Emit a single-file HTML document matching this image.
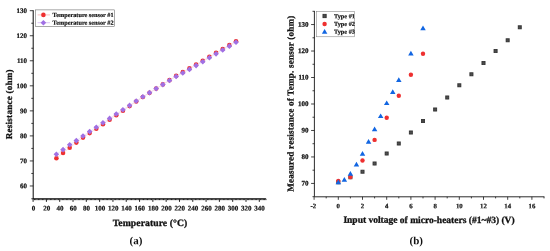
<!DOCTYPE html>
<html lang="en"><head><meta charset="utf-8"><title>Figure</title>
<style>
html,body{margin:0;padding:0;background:#fff;}
body{width:550px;height:251px;overflow:hidden;}
svg{display:block;}
text{font-family:"Liberation Serif", "DejaVu Serif", serif;fill:#111;text-rendering:geometricPrecision;}
.b{font-weight:bold;}
.tk{font-size:7px;font-weight:bold;stroke:#111;stroke-width:0.2px;}
.tkx{font-size:6.8px;font-weight:bold;stroke:#111;stroke-width:0.2px;}
.axb{font-size:9.5px;font-weight:bold;stroke:#111;stroke-width:0.3px;}
.tkb{font-size:7px;font-weight:bold;stroke:#111;stroke-width:0.25px;}
.ax{font-size:9.7px;font-weight:bold;stroke:#111;stroke-width:0.2px;}
.axa{font-size:9.7px;font-weight:bold;stroke:#111;stroke-width:0.3px;letter-spacing:0.06px;}
.axv{font-size:9px;font-weight:bold;stroke:#111;stroke-width:0.3px;letter-spacing:0.27px;}
.axw{font-size:9px;font-weight:bold;stroke:#111;stroke-width:0.3px;letter-spacing:0.25px;}
.lg{font-size:6.25px;font-weight:bold;stroke:#111;stroke-width:0.18px;}
.cap{font-size:11px;font-weight:bold;}
</style></head><body>
<svg width="550" height="251" viewBox="0 0 550 251">
<rect width="550" height="251" fill="#fff"/>
<g id="chart-a">
<path d="M33.2 10.2 V198.75 H265.95" fill="none" stroke="#141414" stroke-width="1.05"/>
<path d="M33.1 198.75v3.1M34.43 198.75v1.4M35.76 198.75v1.4M37.09 198.75v1.4M38.42 198.75v1.4M39.75 198.75v1.4M41.08 198.75v1.4M42.41 198.75v1.4M43.74 198.75v1.4M45.08 198.75v1.4M46.41 198.75v3.1M47.74 198.75v1.4M49.07 198.75v1.4M50.4 198.75v1.4M51.73 198.75v1.4M53.06 198.75v1.4M54.39 198.75v1.4M55.72 198.75v1.4M57.05 198.75v1.4M58.38 198.75v1.4M59.71 198.75v3.1M61.04 198.75v1.4M62.37 198.75v1.4M63.7 198.75v1.4M65.03 198.75v1.4M66.37 198.75v1.4M67.7 198.75v1.4M69.03 198.75v1.4M70.36 198.75v1.4M71.69 198.75v1.4M73.02 198.75v3.1M74.35 198.75v1.4M75.68 198.75v1.4M77.01 198.75v1.4M78.34 198.75v1.4M79.67 198.75v1.4M81 198.75v1.4M82.33 198.75v1.4M83.66 198.75v1.4M84.99 198.75v1.4M86.32 198.75v3.1M87.65 198.75v1.4M88.99 198.75v1.4M90.32 198.75v1.4M91.65 198.75v1.4M92.98 198.75v1.4M94.31 198.75v1.4M95.64 198.75v1.4M96.97 198.75v1.4M98.3 198.75v1.4M99.63 198.75v3.1M100.96 198.75v1.4M102.29 198.75v1.4M103.62 198.75v1.4M104.95 198.75v1.4M106.28 198.75v1.4M107.61 198.75v1.4M108.94 198.75v1.4M110.27 198.75v1.4M111.61 198.75v1.4M112.94 198.75v3.1M114.27 198.75v1.4M115.6 198.75v1.4M116.93 198.75v1.4M118.26 198.75v1.4M119.59 198.75v1.4M120.92 198.75v1.4M122.25 198.75v1.4M123.58 198.75v1.4M124.91 198.75v1.4M126.24 198.75v3.1M127.57 198.75v1.4M128.9 198.75v1.4M130.23 198.75v1.4M131.56 198.75v1.4M132.9 198.75v1.4M134.23 198.75v1.4M135.56 198.75v1.4M136.89 198.75v1.4M138.22 198.75v1.4M139.55 198.75v3.1M140.88 198.75v1.4M142.21 198.75v1.4M143.54 198.75v1.4M144.87 198.75v1.4M146.2 198.75v1.4M147.53 198.75v1.4M148.86 198.75v1.4M150.19 198.75v1.4M151.52 198.75v1.4M152.85 198.75v3.1M154.18 198.75v1.4M155.52 198.75v1.4M156.85 198.75v1.4M158.18 198.75v1.4M159.51 198.75v1.4M160.84 198.75v1.4M162.17 198.75v1.4M163.5 198.75v1.4M164.83 198.75v1.4M166.16 198.75v3.1M167.49 198.75v1.4M168.82 198.75v1.4M170.15 198.75v1.4M171.48 198.75v1.4M172.81 198.75v1.4M174.14 198.75v1.4M175.47 198.75v1.4M176.8 198.75v1.4M178.14 198.75v1.4M179.47 198.75v3.1M180.8 198.75v1.4M182.13 198.75v1.4M183.46 198.75v1.4M184.79 198.75v1.4M186.12 198.75v1.4M187.45 198.75v1.4M188.78 198.75v1.4M190.11 198.75v1.4M191.44 198.75v1.4M192.77 198.75v3.1M194.1 198.75v1.4M195.43 198.75v1.4M196.76 198.75v1.4M198.09 198.75v1.4M199.42 198.75v1.4M200.76 198.75v1.4M202.09 198.75v1.4M203.42 198.75v1.4M204.75 198.75v1.4M206.08 198.75v3.1M207.41 198.75v1.4M208.74 198.75v1.4M210.07 198.75v1.4M211.4 198.75v1.4M212.73 198.75v1.4M214.06 198.75v1.4M215.39 198.75v1.4M216.72 198.75v1.4M218.05 198.75v1.4M219.38 198.75v3.1M220.71 198.75v1.4M222.05 198.75v1.4M223.38 198.75v1.4M224.71 198.75v1.4M226.04 198.75v1.4M227.37 198.75v1.4M228.7 198.75v1.4M230.03 198.75v1.4M231.36 198.75v1.4M232.69 198.75v3.1M234.02 198.75v1.4M235.35 198.75v1.4M236.68 198.75v1.4M238.01 198.75v1.4M239.34 198.75v1.4M240.67 198.75v1.4M242 198.75v1.4M243.33 198.75v1.4M244.67 198.75v1.4M246 198.75v3.1M247.33 198.75v1.4M248.66 198.75v1.4M249.99 198.75v1.4M251.32 198.75v1.4M252.65 198.75v1.4M253.98 198.75v1.4M255.31 198.75v1.4M256.64 198.75v1.4M257.97 198.75v1.4M259.3 198.75v3.1M260.63 198.75v1.4M261.96 198.75v1.4M263.29 198.75v1.4M264.62 198.75v1.4M265.95 198.75v1.4" stroke="#141414" stroke-width="0.95" fill="none"/>
<path d="M33.2 198.75h-1.9M33.2 185.98h-3.4M33.2 173.46h-1.9M33.2 160.94h-3.4M33.2 148.42h-1.9M33.2 135.9h-3.4M33.2 123.38h-1.9M33.2 110.86h-3.4M33.2 98.34h-1.9M33.2 85.82h-3.4M33.2 73.3h-1.9M33.2 60.78h-3.4M33.2 48.26h-1.9M33.2 35.74h-3.4M33.2 23.22h-1.9M33.2 10.7h-3.4" stroke="#141414" stroke-width="0.8" fill="none"/>
<text class="tk" x="33.4" y="210.5" text-anchor="middle" transform="rotate(0.03 33.4 210.5)">0</text>
<text class="tk" x="46.71" y="210.5" text-anchor="middle" transform="rotate(0.03 46.71 210.5)">20</text>
<text class="tk" x="60.01" y="210.5" text-anchor="middle" transform="rotate(0.03 60.01 210.5)">40</text>
<text class="tk" x="73.32" y="210.5" text-anchor="middle" transform="rotate(0.03 73.32 210.5)">60</text>
<text class="tk" x="86.62" y="210.5" text-anchor="middle" transform="rotate(0.03 86.62 210.5)">80</text>
<text class="tk" x="99.93" y="210.5" text-anchor="middle" transform="rotate(0.03 99.93 210.5)">100</text>
<text class="tk" x="113.24" y="210.5" text-anchor="middle" transform="rotate(0.03 113.24 210.5)">120</text>
<text class="tk" x="126.54" y="210.5" text-anchor="middle" transform="rotate(0.03 126.54 210.5)">140</text>
<text class="tk" x="139.85" y="210.5" text-anchor="middle" transform="rotate(0.03 139.85 210.5)">160</text>
<text class="tk" x="153.15" y="210.5" text-anchor="middle" transform="rotate(0.03 153.15 210.5)">180</text>
<text class="tk" x="166.46" y="210.5" text-anchor="middle" transform="rotate(0.03 166.46 210.5)">200</text>
<text class="tk" x="179.77" y="210.5" text-anchor="middle" transform="rotate(0.03 179.77 210.5)">220</text>
<text class="tk" x="193.07" y="210.5" text-anchor="middle" transform="rotate(0.03 193.07 210.5)">240</text>
<text class="tk" x="206.38" y="210.5" text-anchor="middle" transform="rotate(0.03 206.38 210.5)">260</text>
<text class="tk" x="219.68" y="210.5" text-anchor="middle" transform="rotate(0.03 219.68 210.5)">280</text>
<text class="tk" x="232.99" y="210.5" text-anchor="middle" transform="rotate(0.03 232.99 210.5)">300</text>
<text class="tk" x="246.3" y="210.5" text-anchor="middle" transform="rotate(0.03 246.3 210.5)">320</text>
<text class="tk" x="259.6" y="210.5" text-anchor="middle" transform="rotate(0.03 259.6 210.5)">340</text>
<text class="tk" x="27" y="188.33" text-anchor="end" transform="rotate(0.03 27 188.33)">60</text>
<text class="tk" x="27" y="163.29" text-anchor="end" transform="rotate(0.03 27 163.29)">70</text>
<text class="tk" x="27" y="138.25" text-anchor="end" transform="rotate(0.03 27 138.25)">80</text>
<text class="tk" x="27" y="113.21" text-anchor="end" transform="rotate(0.03 27 113.21)">90</text>
<text class="tk" x="27" y="88.17" text-anchor="end" transform="rotate(0.03 27 88.17)">100</text>
<text class="tk" x="27" y="63.13" text-anchor="end" transform="rotate(0.03 27 63.13)">110</text>
<text class="tk" x="27" y="38.09" text-anchor="end" transform="rotate(0.03 27 38.09)">120</text>
<text class="tk" x="27" y="13.05" text-anchor="end" transform="rotate(0.03 27 13.05)">130</text>
<text class="axa" x="150" y="226" text-anchor="middle" transform="rotate(0.03 150 226)">Temperature (°C)</text>
<text class="axv" transform="translate(12.0 104.2) rotate(-89.97)" text-anchor="middle">Resistance (ohm)</text>
<polyline fill="none" stroke="#fdd4d4" stroke-width="0.7" points="56.39,158.2 63.04,152.95 69.69,147.8 76.34,142.6 83,137.6 89.65,133.12 96.3,128.64 102.96,124.16 109.61,119.68 116.26,115.26 122.92,110.69 129.57,106.11 136.22,101.54 142.87,97.03 149.53,92.83 156.18,88.62 162.83,84.38 169.49,80.14 176.14,75.9 182.79,72.15 189.45,68.4 196.1,64.6 202.75,60.8 209.4,56.7 216.06,52.85 222.71,49 229.36,45.15 236.02,41.3"/>
<g fill="#ee3030"><circle cx="56.39" cy="158.2" r="2.3"/><circle cx="63.04" cy="152.95" r="2.3"/><circle cx="69.69" cy="147.8" r="2.3"/><circle cx="76.34" cy="142.6" r="2.3"/><circle cx="83" cy="137.6" r="2.3"/><circle cx="89.65" cy="133.12" r="2.3"/><circle cx="96.3" cy="128.64" r="2.3"/><circle cx="102.96" cy="124.16" r="2.3"/><circle cx="109.61" cy="119.68" r="2.3"/><circle cx="116.26" cy="115.26" r="2.3"/><circle cx="122.92" cy="110.69" r="2.3"/><circle cx="129.57" cy="106.11" r="2.3"/><circle cx="136.22" cy="101.54" r="2.3"/><circle cx="142.87" cy="97.03" r="2.3"/><circle cx="149.53" cy="92.83" r="2.3"/><circle cx="156.18" cy="88.62" r="2.3"/><circle cx="162.83" cy="84.38" r="2.3"/><circle cx="169.49" cy="80.14" r="2.3"/><circle cx="176.14" cy="75.9" r="2.3"/><circle cx="182.79" cy="72.15" r="2.3"/><circle cx="189.45" cy="68.4" r="2.3"/><circle cx="196.1" cy="64.6" r="2.3"/><circle cx="202.75" cy="60.8" r="2.3"/><circle cx="209.4" cy="56.7" r="2.3"/><circle cx="216.06" cy="52.85" r="2.3"/><circle cx="222.71" cy="49" r="2.3"/><circle cx="229.36" cy="45.15" r="2.3"/><circle cx="236.02" cy="41.3" r="2.3"/></g>
<polyline fill="none" stroke="#e6d9f8" stroke-width="0.7" points="56.39,154.3 63.04,149.65 69.69,144.8 76.34,140.6 83,136 89.65,131.6 96.3,127.2 102.96,122.8 109.61,118.4 116.26,114.06 122.92,109.72 129.57,105.38 136.22,101.04 142.87,96.7 149.53,92.66 156.18,88.62 162.83,84.58 169.49,80.54 176.14,76.5 182.79,72.95 189.45,69.4 196.1,65.6 202.75,61.8 209.4,57.7 216.06,53.85 222.71,50 229.36,46.15 236.02,42.3"/>
<path fill="#a070e4" d="M53.59 154.3l2.8 -2.8l2.8 2.8l-2.8 2.8zM60.24 149.65l2.8 -2.8l2.8 2.8l-2.8 2.8zM66.89 144.8l2.8 -2.8l2.8 2.8l-2.8 2.8zM73.54 140.6l2.8 -2.8l2.8 2.8l-2.8 2.8zM80.2 136l2.8 -2.8l2.8 2.8l-2.8 2.8zM86.85 131.6l2.8 -2.8l2.8 2.8l-2.8 2.8zM93.5 127.2l2.8 -2.8l2.8 2.8l-2.8 2.8zM100.16 122.8l2.8 -2.8l2.8 2.8l-2.8 2.8zM106.81 118.4l2.8 -2.8l2.8 2.8l-2.8 2.8zM113.46 114.06l2.8 -2.8l2.8 2.8l-2.8 2.8zM120.12 109.72l2.8 -2.8l2.8 2.8l-2.8 2.8zM126.77 105.38l2.8 -2.8l2.8 2.8l-2.8 2.8zM133.42 101.04l2.8 -2.8l2.8 2.8l-2.8 2.8zM140.07 96.7l2.8 -2.8l2.8 2.8l-2.8 2.8zM146.73 92.66l2.8 -2.8l2.8 2.8l-2.8 2.8zM153.38 88.62l2.8 -2.8l2.8 2.8l-2.8 2.8zM160.03 84.58l2.8 -2.8l2.8 2.8l-2.8 2.8zM166.69 80.54l2.8 -2.8l2.8 2.8l-2.8 2.8zM173.34 76.5l2.8 -2.8l2.8 2.8l-2.8 2.8zM179.99 72.95l2.8 -2.8l2.8 2.8l-2.8 2.8zM186.65 69.4l2.8 -2.8l2.8 2.8l-2.8 2.8zM193.3 65.6l2.8 -2.8l2.8 2.8l-2.8 2.8zM199.95 61.8l2.8 -2.8l2.8 2.8l-2.8 2.8zM206.6 57.7l2.8 -2.8l2.8 2.8l-2.8 2.8zM213.26 53.85l2.8 -2.8l2.8 2.8l-2.8 2.8zM219.91 50l2.8 -2.8l2.8 2.8l-2.8 2.8zM226.56 46.15l2.8 -2.8l2.8 2.8l-2.8 2.8zM233.22 42.3l2.8 -2.8l2.8 2.8l-2.8 2.8z"/>
<rect x="35.6" y="9.9" width="79" height="16.8" fill="#fff" stroke="#555" stroke-width="0.5"/>
<path d="M37.6 14.9H50" stroke="#f9b0b0" stroke-width="0.8"/><circle cx="43.4" cy="14.9" r="2.3" fill="#ee3030"/>
<path d="M37.6 22.7H50" stroke="#d2b8f2" stroke-width="0.8"/><path fill="#a070e4" d="M40.6 22.7l2.8 -2.8l2.8 2.8l-2.8 2.8z"/>
<text class="lg" x="52.6" y="17" transform="rotate(0.03 52.6 17)">Temperature sensor #1</text>
<text class="lg" x="52.6" y="24.8" transform="rotate(0.03 52.6 24.8)">Temperature sensor #2</text>
<text class="cap" x="136" y="244.3" text-anchor="middle" transform="rotate(0.03 136 244.3)">(a)</text>
</g>
<g id="chart-b">
<path d="M314.4 10.91 V196.8 H544.4" fill="none" stroke="#141414" stroke-width="0.9"/>
<path d="M314.1 196.8v3M326.2 196.8v1.6M338.3 196.8v3M350.4 196.8v1.6M362.5 196.8v3M374.6 196.8v1.6M386.7 196.8v3M398.8 196.8v1.6M410.9 196.8v3M423 196.8v1.6M435.1 196.8v3M447.2 196.8v1.6M459.3 196.8v3M471.4 196.8v1.6M483.5 196.8v3M495.6 196.8v1.6M507.7 196.8v3M519.8 196.8v1.6M531.9 196.8v3M544 196.8v1.6" stroke="#141414" stroke-width="0.8" fill="none"/>
<path d="M314.4 196.67h-1.9M314.4 183.43h-3.3M314.4 170.19h-1.9M314.4 156.95h-3.3M314.4 143.71h-1.9M314.4 130.47h-3.3M314.4 117.23h-1.9M314.4 103.99h-3.3M314.4 90.75h-1.9M314.4 77.51h-3.3M314.4 64.27h-1.9M314.4 51.03h-3.3M314.4 37.79h-1.9M314.4 24.55h-3.3M314.4 11.31h-1.9" stroke="#141414" stroke-width="0.8" fill="none"/>
<text class="tkx" x="313.3" y="208.3" text-anchor="middle" transform="rotate(0.03 313.3 208.3)">-2</text>
<text class="tkx" x="338.3" y="208.3" text-anchor="middle" transform="rotate(0.03 338.3 208.3)">0</text>
<text class="tkx" x="362.5" y="208.3" text-anchor="middle" transform="rotate(0.03 362.5 208.3)">2</text>
<text class="tkx" x="386.7" y="208.3" text-anchor="middle" transform="rotate(0.03 386.7 208.3)">4</text>
<text class="tkx" x="410.9" y="208.3" text-anchor="middle" transform="rotate(0.03 410.9 208.3)">6</text>
<text class="tkx" x="435.1" y="208.3" text-anchor="middle" transform="rotate(0.03 435.1 208.3)">8</text>
<text class="tkx" x="459.3" y="208.3" text-anchor="middle" transform="rotate(0.03 459.3 208.3)">10</text>
<text class="tkx" x="483.5" y="208.3" text-anchor="middle" transform="rotate(0.03 483.5 208.3)">12</text>
<text class="tkx" x="507.7" y="208.3" text-anchor="middle" transform="rotate(0.03 507.7 208.3)">14</text>
<text class="tkx" x="531.9" y="208.3" text-anchor="middle" transform="rotate(0.03 531.9 208.3)">16</text>
<text class="tkb" x="308.5" y="185.53" text-anchor="end" transform="rotate(0.03 308.5 185.53)">70</text>
<text class="tkb" x="308.5" y="159.05" text-anchor="end" transform="rotate(0.03 308.5 159.05)">80</text>
<text class="tkb" x="308.5" y="132.57" text-anchor="end" transform="rotate(0.03 308.5 132.57)">90</text>
<text class="tkb" x="308.5" y="106.09" text-anchor="end" transform="rotate(0.03 308.5 106.09)">100</text>
<text class="tkb" x="308.5" y="79.61" text-anchor="end" transform="rotate(0.03 308.5 79.61)">110</text>
<text class="tkb" x="308.5" y="53.13" text-anchor="end" transform="rotate(0.03 308.5 53.13)">120</text>
<text class="tkb" x="308.5" y="26.65" text-anchor="end" transform="rotate(0.03 308.5 26.65)">130</text>
<text class="axb" x="429" y="222.9" text-anchor="middle" transform="rotate(0.03 429 222.9)">Input voltage of micro-heaters (#1~#3) (V)</text>
<text class="axw" transform="translate(293.5 103.6) rotate(-89.97)" text-anchor="middle">Measured resistance of Temp. sensor (ohm)</text>
<path fill="#3a3a3a" d="M336.3 180.3h4v4h-4zM348.4 175.2h4v4h-4zM360.5 169.7h4v4h-4zM372.6 161.6h4v4h-4zM384.7 151.6h4v4h-4zM396.8 141.5h4v4h-4zM408.9 130.5h4v4h-4zM421 119h4v4h-4zM433.1 107.6h4v4h-4zM445.2 95.5h4v4h-4zM457.3 83.2h4v4h-4zM469.4 72.2h4v4h-4zM481.5 61.1h4v4h-4zM493.6 49.1h4v4h-4zM505.7 38.2h4v4h-4zM517.8 25.3h4v4h-4z"/>
<path stroke="#5c5c5c" stroke-width="0.45" fill="none" d="M336.5 182.3h3.6M338.3 180.5v3.6M348.6 177.2h3.6M350.4 175.4v3.6M360.7 171.7h3.6M362.5 169.9v3.6M372.8 163.6h3.6M374.6 161.8v3.6M384.9 153.6h3.6M386.7 151.8v3.6M397 143.5h3.6M398.8 141.7v3.6M409.1 132.5h3.6M410.9 130.7v3.6M421.2 121h3.6M423 119.2v3.6M433.3 109.6h3.6M435.1 107.8v3.6M445.4 97.5h3.6M447.2 95.7v3.6M457.5 85.2h3.6M459.3 83.4v3.6M469.6 74.2h3.6M471.4 72.4v3.6M481.7 63.1h3.6M483.5 61.3v3.6M493.8 51.1h3.6M495.6 49.3v3.6M505.9 40.2h3.6M507.7 38.4v3.6M518 27.3h3.6M519.8 25.5v3.6"/>
<g fill="#ee3030"><circle cx="338.3" cy="181" r="2.2"/><circle cx="350.4" cy="177" r="2.2"/><circle cx="362.5" cy="160.5" r="2.2"/><circle cx="374.6" cy="139.9" r="2.2"/><circle cx="386.7" cy="117.8" r="2.2"/><circle cx="398.8" cy="95.7" r="2.2"/><circle cx="410.9" cy="74.7" r="2.2"/><circle cx="423" cy="53.7" r="2.2"/></g>
<path fill="#1266e2" d="M338.3 179.49l2.75 4.7h-5.5zM344.35 177.09l2.75 4.7h-5.5zM350.4 171.09l2.75 4.7h-5.5zM356.45 161.69l2.75 4.7h-5.5zM362.5 151.09l2.75 4.7h-5.5zM368.55 139.09l2.75 4.7h-5.5zM374.6 126.49l2.75 4.7h-5.5zM380.65 113.39l2.75 4.7h-5.5zM386.7 100.39l2.75 4.7h-5.5zM392.75 89.29l2.75 4.7h-5.5zM398.8 77.29l2.75 4.7h-5.5zM410.9 50.79l2.75 4.7h-5.5zM423 25.59l2.75 4.7h-5.5z"/>
<rect x="316.4" y="11.3" width="38.3" height="25.5" fill="#fff" stroke="#777" stroke-width="0.5"/>
<path fill="#3a3a3a" d="M322.5 13.9h4.2v4.2h-4.2z"/><path stroke="#5c5c5c" stroke-width="0.45" d="M322.8 16h3.6M324.6 14.2v3.6"/><circle cx="324.6" cy="24" r="2.2" fill="#ee3030"/><path fill="#1266e2" d="M324.6 28.99l2.75 4.7h-5.5z"/>
<text class="lg" x="334" y="18.2" transform="rotate(0.03 334 18.2)">Type #1</text>
<text class="lg" x="334" y="26" transform="rotate(0.03 334 26)">Type #2</text>
<text class="lg" x="334" y="33.7" transform="rotate(0.03 334 33.7)">Type #3</text>
<text class="cap" x="416.2" y="244.2" text-anchor="middle" transform="rotate(0.03 416.2 244.2)">(b)</text>
</g>
</svg>
</body></html>
